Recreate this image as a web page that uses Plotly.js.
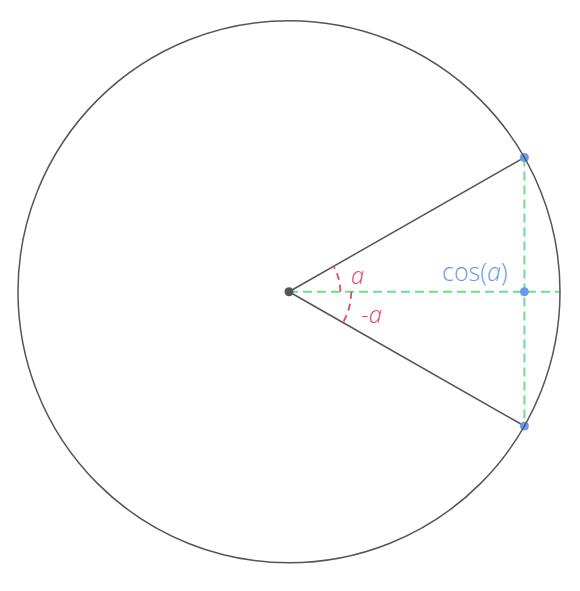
<!DOCTYPE html>
<html>
<head>
<meta charset="utf-8">
<script src="https://cdn.plot.ly/plotly-3.0.1.min.js"></script>
<style>
  html, body { margin: 0; padding: 0; background: #fff; }
  #chart { width: 580px; height: 591px; }
</style>
</head>
<body>
<div id="chart"></div>
<script>
// unit circle with angle a and -a
var radius = 1;
var angleDeg = 29.7;
var arcRadiusUp = 0.19;
var arcRadiusDown = 0.23;
var labels = ['<i>a</i>', '-<i>a</i>', 'cos(<i>a</i>)'];

var colors = {
    grey:  '#555555',
    green: '#6ae08f',
    red:   '#e8456a',
    blue:  '#6a9be8'
};

function plot_circle() {
    'use strict';

    var t = angleDeg * Math.PI / 180;
    var cx = radius * Math.cos(t);
    var sy = radius * Math.sin(t);

    function arc(r, from, to) {
        var xs = [], ys = [];
        for (var i = 0; i <= 20; i++) {
            var ang = (from + (to - from) * i / 20) * Math.PI / 180;
            xs.push(r * Math.cos(ang));
            ys.push(r * Math.sin(ang));
        }
        return {x: xs, y: ys};
    }

    var arcUp = arc(arcRadiusUp, 0, angleDeg);
    var arcDown = arc(arcRadiusDown, 0, -angleDeg);

    var dashed = {color: colors.green, width: 2, dash: '9px,5px'};

    var horiz = {
        type: 'scatter', mode: 'lines',
        x: [0, radius], y: [0, 0],
        line: dashed
    };
    var vert = {
        type: 'scatter', mode: 'lines',
        x: [cx, cx], y: [sy, -sy],
        line: dashed
    };
    var rays = {
        type: 'scatter', mode: 'lines',
        x: [cx, 0, cx], y: [sy, 0, -sy],
        line: {color: colors.grey, width: 1.5}
    };
    var arc1 = {
        type: 'scatter', mode: 'lines',
        x: arcUp.x, y: arcUp.y,
        line: {color: colors.red, width: 1.8, dash: '7px,5px'}
    };
    var arc2 = {
        type: 'scatter', mode: 'lines',
        x: arcDown.x, y: arcDown.y,
        line: {color: colors.red, width: 1.8, dash: '7px,5px'}
    };
    var origin = {
        type: 'scatter', mode: 'markers',
        x: [0], y: [0],
        marker: {color: colors.grey, size: 9}
    };
    var dots = {
        type: 'scatter', mode: 'markers',
        x: [cx, cx, cx], y: [sy, 0, -sy],
        marker: {color: colors.blue, size: 9}
    };

    var layout = {
        width: 580, height: 591,
        margin: {l: 0, r: 0, b: 0, t: 0, pad: 0},
        showlegend: false,
        paper_bgcolor: '#fff',
        plot_bgcolor: '#fff',
        xaxis: {range: [-1.0664, 1.0738], visible: false, fixedrange: true},
        yaxis: {range: [-1.1042, 1.0765], visible: false, fixedrange: true},
        shapes: [{
            type: 'circle', xref: 'x', yref: 'y',
            x0: -radius, y0: -radius, x1: radius, y1: radius,
            line: {color: colors.grey, width: 1.5}
        }],
        annotations: [
            {x: 0.251, y: 0.062, text: labels[0], showarrow: false,
             font: {family: 'Open Sans', size: 24, weight: 300, color: colors.red}},
            {x: 0.303, y: -0.08, text: labels[1], showarrow: false,
             font: {family: 'Open Sans', size: 24, weight: 300, color: colors.red}},
            {x: 0.686, y: 0.078, text: labels[2], showarrow: false,
             font: {family: 'Open Sans', size: 25, weight: 300, color: colors.blue}}
        ]
    };

    var data = [horiz, vert, rays, arc1, arc2, origin, dots];

    Plotly.newPlot('chart', data, layout, {displayModeBar: false, staticPlot: true});
}

plot_circle();
</script>
</body>
</html>
